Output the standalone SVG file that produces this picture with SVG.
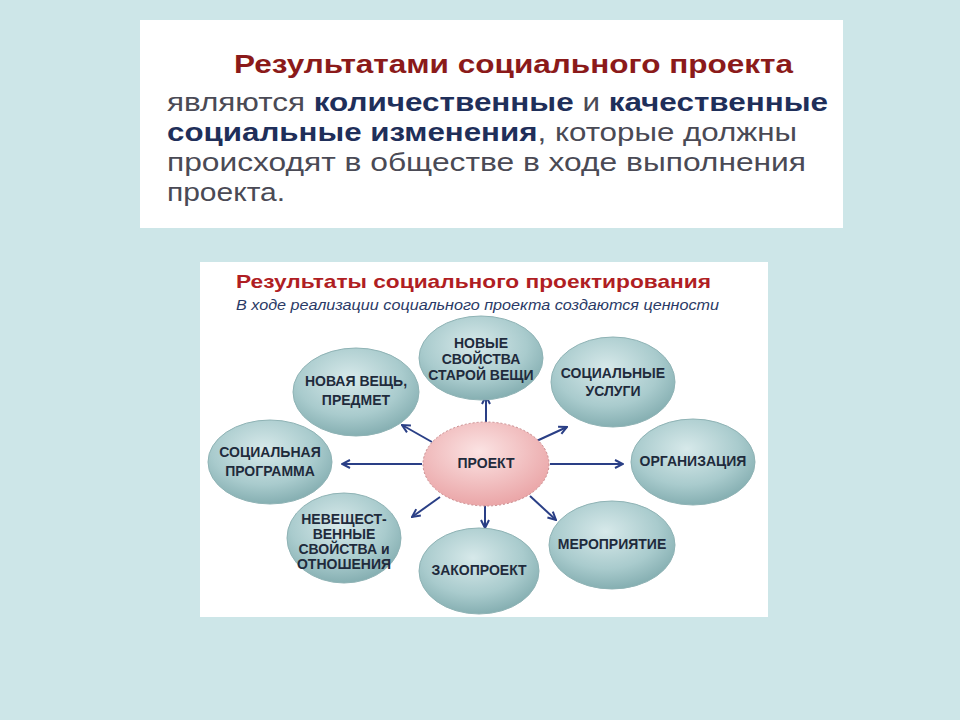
<svg xmlns="http://www.w3.org/2000/svg" width="960" height="720" viewBox="0 0 960 720">
<defs>
<radialGradient id="g" cx="45%" cy="35%" r="70%"><stop offset="0" stop-color="#d7e9ea"/><stop offset="0.6" stop-color="#a9cbcd"/><stop offset="1" stop-color="#7ea9ac"/></radialGradient>
<radialGradient id="p" cx="45%" cy="35%" r="70%"><stop offset="0" stop-color="#fbe3e3"/><stop offset="1" stop-color="#e9a1a3"/></radialGradient>
<marker id="a" viewBox="0 0 10 10" refX="9" refY="5" markerWidth="5" markerHeight="5" orient="auto"><path d="M1 1L9 5L1 9" fill="none" stroke="#2a3f86" stroke-width="2"/></marker>
<style>
.n{fill:url(#g);stroke:#8fb3b5;stroke-width:1}
.t{font-family:"Liberation Sans",Arial,sans-serif;font-weight:bold;font-size:14px;fill:#1f2b3c;text-anchor:middle}
.c line{stroke:#2a3f86;stroke-width:2;marker-end:url(#a)}
.b{font-family:"Liberation Sans",Arial,sans-serif;font-size:26px;fill:#4a4a55}
</style>
</defs>
<rect width="960" height="720" fill="#cde6e8"/>
<rect x="140" y="20" width="703" height="208" fill="#ffffff"/>
<text x="234" y="73" textLength="559" lengthAdjust="spacingAndGlyphs" font-family="Liberation Sans,Arial,sans-serif" font-weight="bold" font-size="26" fill="#8b1a1a">Результатами социального проекта</text>
<text class="b" x="167" y="111" textLength="661" lengthAdjust="spacingAndGlyphs">являются <tspan font-weight="bold" fill="#1f2f5a">количественные</tspan> и <tspan font-weight="bold" fill="#1f2f5a">качественные</tspan></text>
<text class="b" x="167" y="141" textLength="630" lengthAdjust="spacingAndGlyphs"><tspan font-weight="bold" fill="#1f2f5a">социальные изменения</tspan>, которые должны</text>
<text class="b" x="167" y="171" textLength="639" lengthAdjust="spacingAndGlyphs">происходят в  обществе в ходе выполнения</text>
<text class="b" x="167" y="201" textLength="118" lengthAdjust="spacingAndGlyphs">проекта.</text>
<rect x="200" y="262" width="568" height="355" fill="#ffffff"/>
<text x="236" y="288" textLength="475" lengthAdjust="spacingAndGlyphs" font-family="Liberation Sans,Arial,sans-serif" font-weight="bold" font-size="19" fill="#b01e23">Результаты социального проектирования</text>
<text x="236" y="310" textLength="483" lengthAdjust="spacingAndGlyphs" font-family="Liberation Sans,Arial,sans-serif" font-style="italic" font-size="14" fill="#2a3a66">В ходе реализации социального проекта создаются ценности</text>
<g class="c">
<line x1="486" y1="422" x2="486" y2="396"/>
<line x1="432" y1="442" x2="402" y2="425"/>
<line x1="422" y1="464" x2="342" y2="464"/>
<line x1="550" y1="464" x2="623" y2="464"/>
<line x1="530" y1="444" x2="567" y2="427"/>
<line x1="440" y1="497" x2="412" y2="517"/>
<line x1="530" y1="496" x2="556" y2="520"/>
<line x1="485" y1="504" x2="485" y2="528"/>
</g>
<g id="n1"><ellipse class="n" cx="481" cy="358" rx="62" ry="42"/><text class="t" x="481" y="348">НОВЫЕ</text><text class="t" x="481" y="364">СВОЙСТВА</text><text class="t" x="481" y="380">СТАРОЙ ВЕЩИ</text></g>
<g id="n2"><ellipse class="n" cx="613" cy="382" rx="62" ry="45"/><text class="t" x="613" y="378">СОЦИАЛЬНЫЕ</text><text class="t" x="613" y="396">УСЛУГИ</text></g>
<g id="n3"><ellipse class="n" cx="356" cy="392" rx="63" ry="44"/><text class="t" x="356" y="386">НОВАЯ ВЕЩЬ,</text><text class="t" x="356" y="405">ПРЕДМЕТ</text></g>
<g id="n4"><ellipse class="n" cx="270" cy="462" rx="62" ry="42"/><text class="t" x="270" y="457">СОЦИАЛЬНАЯ</text><text class="t" x="270" y="476">ПРОГРАММА</text></g>
<g id="n5"><ellipse cx="486" cy="464" rx="63" ry="42" fill="url(#p)" stroke="#c98a8c" stroke-dasharray="2 2"/><text class="t" x="486" y="468" font-size="11">ПРОЕКТ</text></g>
<g id="n6"><ellipse class="n" cx="693" cy="462" rx="62" ry="43"/><text class="t" x="693" y="466">ОРГАНИЗАЦИЯ</text></g>
<g id="n7"><ellipse class="n" cx="344" cy="538" rx="57" ry="45"/><text class="t" x="344" y="524" font-size="12">НЕВЕЩЕСТ-</text><text class="t" x="344" y="539" font-size="12">ВЕННЫЕ</text><text class="t" x="344" y="554" font-size="12">СВОЙСТВА  и</text><text class="t" x="344" y="569" font-size="12">ОТНОШЕНИЯ</text></g>
<g id="n8"><ellipse class="n" cx="479" cy="571" rx="60" ry="43"/><text class="t" x="479" y="575">ЗАКОПРОЕКТ</text></g>
<g id="n9"><ellipse class="n" cx="612" cy="545" rx="63" ry="44"/><text class="t" x="612" y="549">МЕРОПРИЯТИЕ</text></g>
</svg>
